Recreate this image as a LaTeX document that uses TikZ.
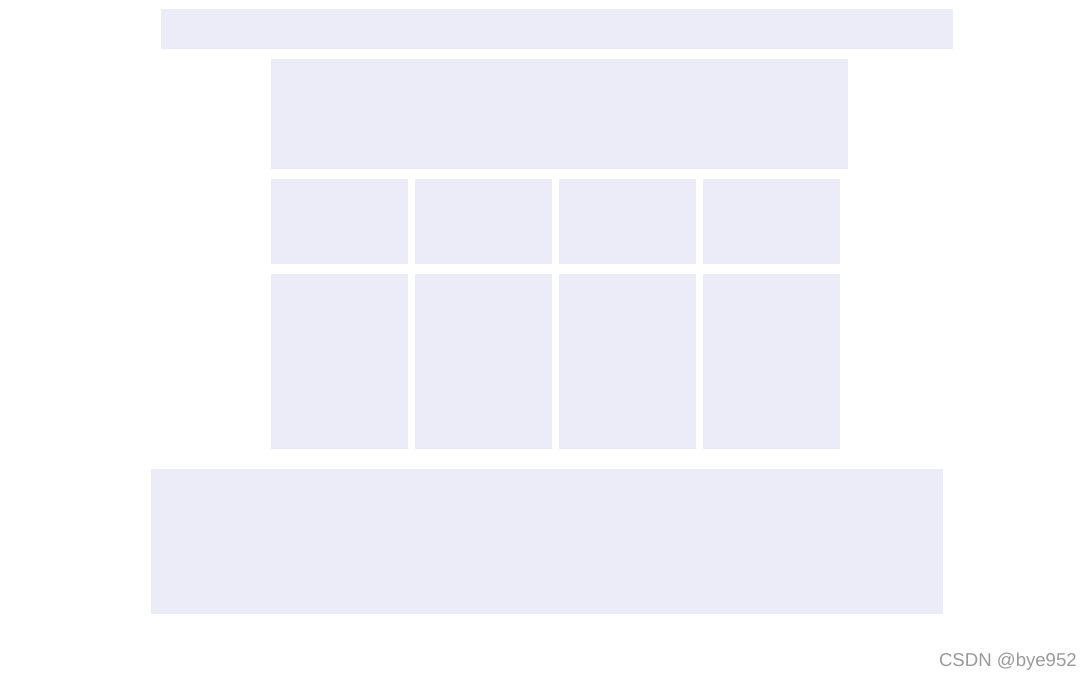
\documentclass[tikz,border=0pt]{standalone}
\usepackage{fontspec}
\newfontfamily\wmfont{Liberation Sans}
\definecolor{boxfill}{HTML}{ECECF8}
\definecolor{wmgray}{HTML}{9A9A9A}
\tikzset{
  blk/.style={fill=boxfill, draw=none, inner sep=0pt, outer sep=0pt, anchor=north west},
}
\begin{document}
\begin{tikzpicture}[x=1pt,y=-1pt]
\useasboundingbox[fill=white] (0,0) rectangle (1091,681);
% top band
\node[blk, minimum width=792pt, minimum height=40pt] (top) at (161,9) {};
% header
\node[blk, minimum width=577pt, minimum height=110pt] (head) at (271,59) {};
% row 1
\node[blk, minimum width=137pt, minimum height=85pt] (r1a) at (271,179) {};
\node[blk, minimum width=137pt, minimum height=85pt] (r1b) at (415,179) {};
\node[blk, minimum width=137pt, minimum height=85pt] (r1c) at (559,179) {};
\node[blk, minimum width=137pt, minimum height=85pt] (r1d) at (703,179) {};
% row 2
\node[blk, minimum width=137pt, minimum height=175pt] (r2a) at (271,274) {};
\node[blk, minimum width=137pt, minimum height=175pt] (r2b) at (415,274) {};
\node[blk, minimum width=137pt, minimum height=175pt] (r2c) at (559,274) {};
\node[blk, minimum width=137pt, minimum height=175pt] (r2d) at (703,274) {};
% bottom
\node[blk, minimum width=792pt, minimum height=145pt] (bot) at (151,469) {};
% watermark
\node[anchor=east, inner sep=0pt, text=wmgray, font=\wmfont\fontsize{18.6}{20}\selectfont] (wm) at (1077,662) {CSDN @bye952};
\end{tikzpicture}
\end{document}
